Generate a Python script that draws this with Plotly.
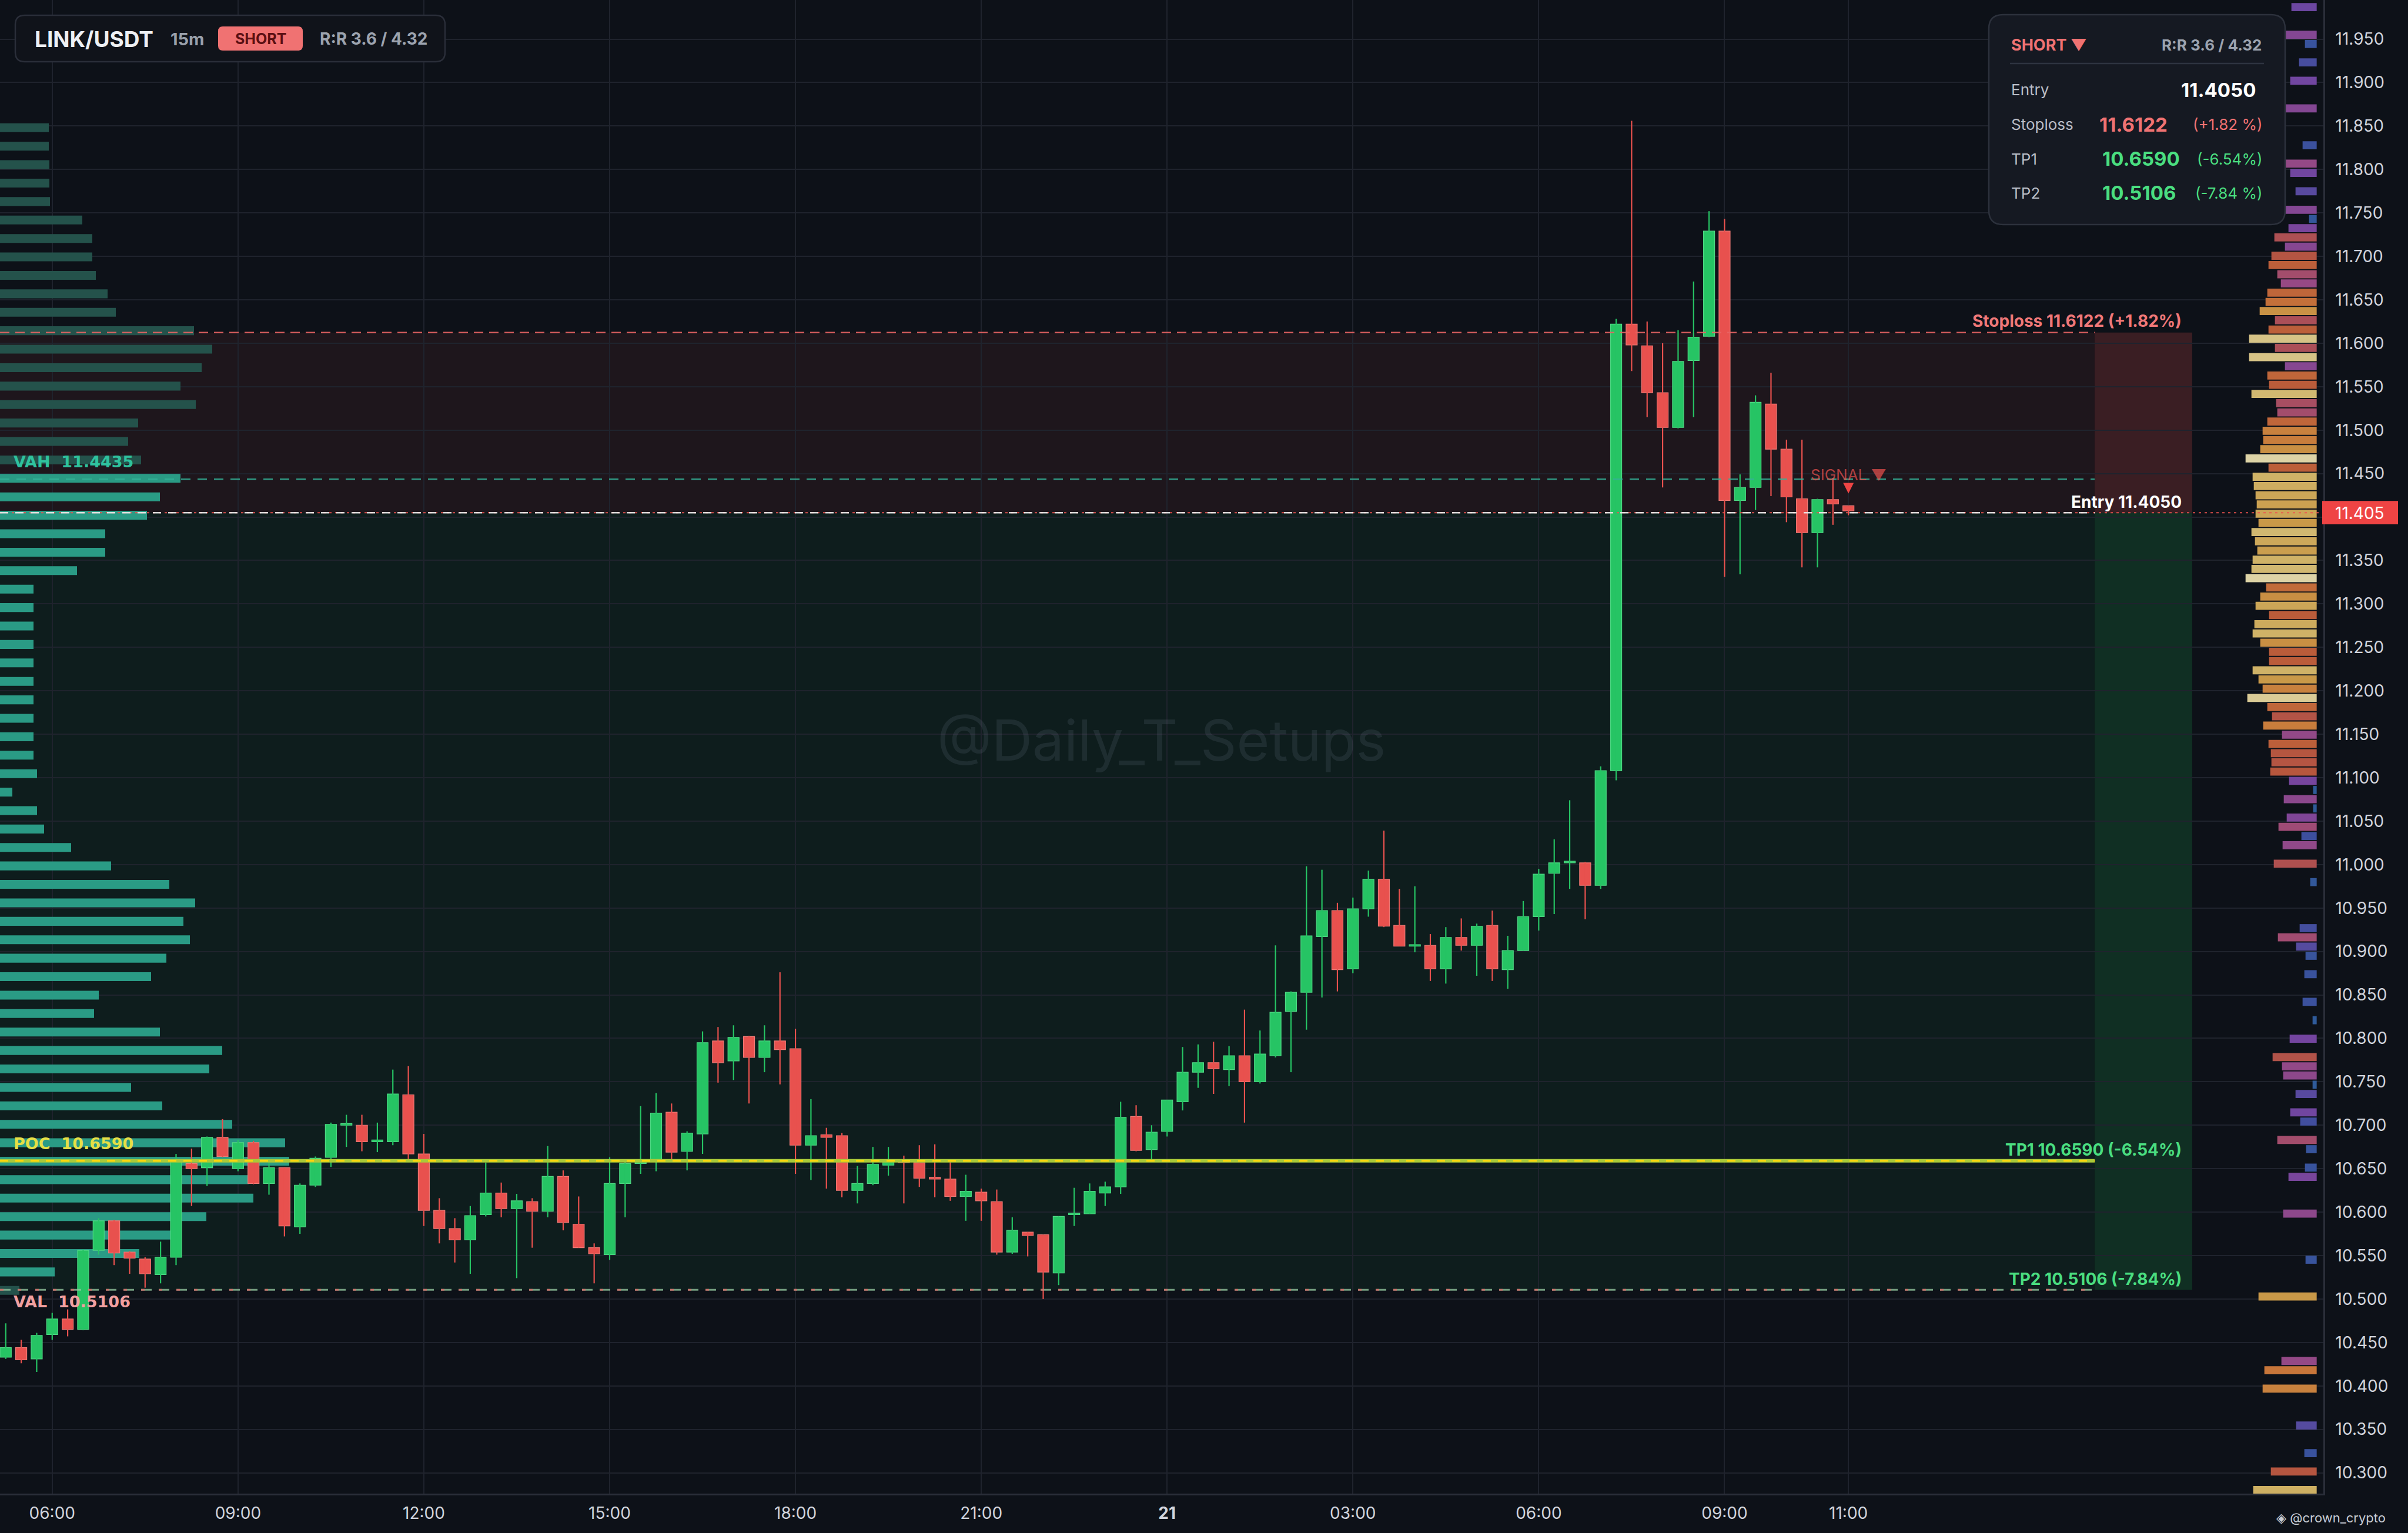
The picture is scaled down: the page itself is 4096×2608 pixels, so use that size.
import numpy as np
import pandas as pd
import plotly.graph_objects as go

# ---------------- data ----------------
# LINK/USDT 15m candles, first bar 05:15 on the 20th, last bar 11:00 on the 21st
first_bar = pd.Timestamp("2024-01-20 05:15")

opens = [10.433, 10.444, 10.431, 10.459, 10.477, 10.465, 10.556, 10.590, 10.554, 10.546, 10.528, 10.548, 10.656,
         10.651, 10.686, 10.650, 10.680, 10.633, 10.651, 10.583, 10.631, 10.663, 10.700, 10.700, 10.681, 10.681,
         10.735, 10.667, 10.602, 10.581, 10.568, 10.597, 10.622, 10.604, 10.612, 10.601, 10.641, 10.586, 10.559,
         10.551, 10.633, 10.656, 10.660, 10.715, 10.670, 10.690, 10.797, 10.774, 10.802, 10.778, 10.797, 10.788,
         10.677, 10.689, 10.688, 10.625, 10.633, 10.654, 10.658, 10.657, 10.640, 10.638, 10.618, 10.623, 10.612,
         10.554, 10.577, 10.574, 10.530, 10.597, 10.598, 10.622, 10.629, 10.710, 10.672, 10.693, 10.727, 10.761,
         10.772, 10.764, 10.780, 10.750, 10.780, 10.831, 10.853, 10.917, 10.947, 10.880, 10.949, 10.983, 10.930,
         10.906, 10.907, 10.880, 10.916, 10.907, 10.930, 10.879, 10.901, 10.940, 10.990, 11.002, 11.002, 10.976,
         11.108, 11.622, 11.597, 11.543, 11.503, 11.580, 11.608, 11.729, 11.419, 11.434, 11.530, 11.478, 11.421,
         11.382, 11.420, 11.413]
highs = [10.472, 10.453, 10.461, 10.484, 10.488, 10.557, 10.593, 10.591, 10.555, 10.548, 10.566, 10.667, 10.673,
         10.687, 10.707, 10.683, 10.682, 10.657, 10.652, 10.633, 10.664, 10.703, 10.712, 10.712, 10.703, 10.764,
         10.768, 10.690, 10.616, 10.593, 10.607, 10.657, 10.634, 10.621, 10.616, 10.676, 10.648, 10.618, 10.564,
         10.663, 10.658, 10.722, 10.737, 10.725, 10.693, 10.808, 10.813, 10.815, 10.803, 10.815, 10.876, 10.811,
         10.730, 10.697, 10.691, 10.653, 10.675, 10.675, 10.665, 10.677, 10.678, 10.658, 10.643, 10.627, 10.626,
         10.594, 10.577, 10.574, 10.595, 10.628, 10.633, 10.635, 10.727, 10.723, 10.700, 10.729, 10.790, 10.793,
         10.796, 10.791, 10.833, 10.809, 10.907, 10.854, 10.998, 10.994, 10.956, 10.962, 10.993, 11.039, 10.972,
         10.975, 10.920, 10.928, 10.938, 10.932, 10.947, 10.918, 10.958, 10.995, 11.029, 11.074, 11.003, 11.113,
         11.628, 11.856, 11.625, 11.600, 11.615, 11.671, 11.752, 11.743, 11.449, 11.540, 11.566, 11.489, 11.489,
         11.421, 11.445, 11.413]
lows = [10.431, 10.426, 10.416, 10.453, 10.457, 10.464, 10.551, 10.539, 10.529, 10.513, 10.518, 10.539, 10.607,
        10.630, 10.663, 10.647, 10.632, 10.620, 10.572, 10.575, 10.629, 10.652, 10.675, 10.670, 10.669, 10.677,
        10.661, 10.584, 10.564, 10.542, 10.529, 10.595, 10.594, 10.524, 10.559, 10.594, 10.579, 10.559, 10.518,
        10.545, 10.594, 10.644, 10.647, 10.660, 10.648, 10.667, 10.749, 10.752, 10.725, 10.761, 10.747, 10.644,
        10.637, 10.627, 10.617, 10.610, 10.631, 10.642, 10.610, 10.629, 10.617, 10.613, 10.590, 10.590, 10.551,
        10.552, 10.549, 10.500, 10.516, 10.584, 10.598, 10.607, 10.621, 10.670, 10.660, 10.687, 10.717, 10.743,
        10.736, 10.745, 10.703, 10.748, 10.778, 10.761, 10.810, 10.847, 10.854, 10.875, 10.940, 10.928, 10.906,
        10.899, 10.866, 10.863, 10.901, 10.872, 10.866, 10.857, 10.901, 10.924, 10.943, 10.972, 10.937, 10.972,
        11.097, 11.568, 11.515, 11.434, 11.502, 11.515, 11.607, 11.331, 11.334, 11.408, 11.424, 11.394, 11.342,
        11.342, 11.391, 11.402]
closes = [10.444, 10.430, 10.458, 10.477, 10.465, 10.556, 10.590, 10.553, 10.547, 10.529, 10.548, 10.658, 10.650,
          10.686, 10.664, 10.680, 10.633, 10.651, 10.584, 10.631, 10.662, 10.701, 10.702, 10.681, 10.683, 10.736,
          10.667, 10.602, 10.581, 10.568, 10.596, 10.622, 10.604, 10.613, 10.601, 10.641, 10.588, 10.559, 10.552,
          10.633, 10.656, 10.658, 10.714, 10.669, 10.691, 10.795, 10.772, 10.801, 10.778, 10.797, 10.787, 10.677,
          10.688, 10.686, 10.625, 10.633, 10.655, 10.660, 10.657, 10.639, 10.638, 10.618, 10.624, 10.613, 10.554,
          10.579, 10.573, 10.531, 10.595, 10.598, 10.624, 10.629, 10.709, 10.671, 10.692, 10.729, 10.761, 10.772,
          10.765, 10.780, 10.750, 10.782, 10.830, 10.853, 10.918, 10.947, 10.879, 10.949, 10.983, 10.929, 10.906,
          10.907, 10.880, 10.916, 10.907, 10.929, 10.880, 10.901, 10.940, 10.989, 11.002, 11.003, 10.976, 11.108,
          11.622, 11.598, 11.543, 11.503, 11.579, 11.607, 11.729, 11.419, 11.434, 11.532, 11.478, 11.423, 11.382,
          11.420, 11.415, 11.407]

# trade levels
entry = 11.4050
stoploss = 11.6122
tp1 = 10.6590
tp2 = 10.5106
poc = 10.6590
vah = 11.4435
val = 10.5106

# session volume profile (left), top bin first
vp_left_top = 11.848
vp_left_step = 0.02124
vp_left_vol = [83, 83, 84, 84, 85, 140, 157, 157, 163, 183, 197, 330, 361, 343, 307, 333,
               235, 218, 240, 307, 272, 250, 179, 179, 131, 57, 57, 57, 57, 57, 57, 57,
               57, 57, 57, 63, 21, 63, 75, 121, 189, 288, 332, 312, 323, 283, 257, 168,
               160, 272, 378, 356, 223, 276, 395, 485, 492, 423, 431, 351, 300, 237, 93, 33]

# heat volume profile (right edge), top bin first
vp_right_top = 11.9868
vp_right_step = 0.0106
vp_right_vol = [43, 0, 0, 53, 20, 0, 30, 0, 45, 0,
                0, 53, 0, 0, 0, 24, 0, 60, 45, 0,
                36, 0, 53, 13, 48, 72, 54, 77, 82, 67,
                61, 84, 87, 97, 71, 82, 115, 71, 115, 54,
                84, 81, 111, 69, 67, 84, 92, 91, 96, 121,
                82, 109, 107, 104, 102, 104, 99, 111, 105, 101,
                109, 111, 121, 86, 96, 104, 81, 106, 109, 96,
                81, 81, 109, 99, 92, 118, 84, 76, 91, 59,
                82, 78, 77, 79, 47, 6, 56, 6, 51, 65,
                26, 58, 0, 73, 0, 11, 0, 0, 0, 0,
                29, 66, 35, 19, 0, 21, 0, 0, 24, 0,
                7, 0, 46, 0, 75, 59, 57, 7, 36, 0,
                45, 28, 0, 67, 18, 0, 20, 48, 0, 0,
                0, 57, 0, 0, 0, 0, 19, 0, 0, 0,
                99, 0, 0, 0, 0, 0, 0, 60, 89, 0,
                92, 0, 0, 0, 35, 0, 0, 21, 0, 78,
                0, 108]

tick_hours = [0, 12, 24, 36, 48, 60, 72, 84, 96, 108, 116]   # bars after 06:00 on the 20th
tick_text = ["06:00", "09:00", "12:00", "15:00", "18:00", "21:00", "<b>21</b>",
             "03:00", "06:00", "09:00", "11:00"]

# ---------------- geometry / style ----------------
W, H = 4096, 2608
PW, PH = 3952, 2541          # plot area in px
BG = "#0d1118"
GRID = "#1f232d"
GREEN = "#26c464"
RED = "#e8514e"
TXT = "#d1d4dc"

bar_px = 26.34               # one 15m bar in px
ms_per_px = 15 * 60 * 1000 / bar_px
t0 = pd.Timestamp("2024-01-20 06:00")


def at(k):
    return t0 + pd.Timedelta(minutes=15 * k)


x_lo, x_hi = -3.37, 146.67
zone_end, box_end = 131.9, 138.2
lbl_right = 137.6
y_lo, y_hi = 10.276, 11.995

times = pd.date_range(first_bar, periods=len(opens), freq="15min")


def px(xp, yp):
    return xp / PW, 1 - yp / PH


def rrect(x0, y0, x1, y1, r):
    X = lambda v: v / PW
    Y = lambda v: 1 - v / PH
    return (f"M{X(x0 + r)},{Y(y0)} L{X(x1 - r)},{Y(y0)} Q{X(x1)},{Y(y0)} {X(x1)},{Y(y0 + r)} "
            f"L{X(x1)},{Y(y1 - r)} Q{X(x1)},{Y(y1)} {X(x1 - r)},{Y(y1)} "
            f"L{X(x0 + r)},{Y(y1)} Q{X(x0)},{Y(y1)} {X(x0)},{Y(y1 - r)} "
            f"L{X(x0)},{Y(y0 + r)} Q{X(x0)},{Y(y0)} {X(x0 + r)},{Y(y0)} Z")


fig = go.Figure()

# left volume profile
lp = [vp_left_top - i * vp_left_step for i in range(len(vp_left_vol))]
lcol = ["#2a9b85" if (val - 0.0005) <= p <= (vah + 0.001) else "#24524b" for p in lp]
fig.add_trace(go.Bar(
    y=lp, x=[v * ms_per_px for v in vp_left_vol], base=at(x_lo), orientation="h",
    width=0.0102, marker=dict(color=lcol, line=dict(width=0)), hoverinfo="skip"))

# right heat profile
rp, rv = [], []
for i, v in enumerate(vp_right_vol):
    if v > 0:
        rp.append(vp_right_top - i * vp_right_step)
        rv.append(v)
r_edge = at(146.24)
fig.add_trace(go.Bar(
    y=rp, x=[v * ms_per_px for v in rv],
    base=[r_edge - pd.Timedelta(milliseconds=v * ms_per_px) for v in rv],
    orientation="h", width=0.0093, hoverinfo="skip",
    marker=dict(color=rv, cmin=0, cmax=121, line=dict(width=0),
                colorscale=[[0, "#2a5f98"], [0.22, "#3d4f9e"], [0.38, "#7445a0"], [0.52, "#9b4a80"],
                            [0.6, "#ae5050"], [0.66, "#b8583a"], [0.74, "#c8783a"], [0.82, "#c99a48"],
                            [0.9, "#cfb266"], [1, "#ddd3a6"]])))

# candles: wicks as lines, bodies as bars
up = [c >= o for o, c in zip(opens, closes)]
for is_up, col in [(True, GREEN), (False, RED)]:
    wx, wy = [], []
    for t, hi, lo, u in zip(times, highs, lows, up):
        if u == is_up:
            wx += [t, t, None]
            wy += [lo, hi, None]
    fig.add_trace(go.Scatter(x=wx, y=wy, mode="lines", line=dict(color=col, width=2.2),
                             hoverinfo="skip"))
fig.add_trace(go.Bar(
    x=times, base=[min(o, c) for o, c in zip(opens, closes)],
    y=[max(abs(c - o), 0.0018) for o, c in zip(opens, closes)],
    width=19 * ms_per_px, hoverinfo="skip",
    marker=dict(color=[GREEN if u else RED for u in up],
                line=dict(color=["#4fd884" if u else "#f07a76" for u in up], width=1.2))))

# signal arrow on the last bar
fig.add_trace(go.Scatter(x=[times[-1]], y=[11.427], mode="markers",
                         marker=dict(symbol="arrow-down", size=18, color="#ef4444"), hoverinfo="skip"))

shapes = []
# risk / reward zones
shapes += [
    dict(type="rect", xref="x", yref="y", x0=at(x_lo), x1=at(zone_end), y0=entry, y1=stoploss,
         fillcolor="rgba(239,83,80,0.08)", line=dict(width=0), layer="below"),
    dict(type="rect", xref="x", yref="y", x0=at(x_lo), x1=at(zone_end), y0=tp2, y1=entry,
         fillcolor="rgba(34,197,94,0.07)", line=dict(width=0), layer="below"),
    dict(type="rect", xref="x", yref="y", x0=at(zone_end), x1=at(box_end), y0=entry, y1=stoploss,
         fillcolor="rgba(239,83,80,0.2)", line=dict(width=0), layer="below"),
    dict(type="rect", xref="x", yref="y", x0=at(zone_end), x1=at(box_end), y0=tp2, y1=entry,
         fillcolor="rgba(34,197,94,0.17)", line=dict(width=0), layer="below"),
]


def hline(y, color, width, dash, x1=zone_end, x0=x_lo):
    return dict(type="line", xref="x", yref="y", x0=at(x0), x1=at(x1), y0=y, y1=y,
                line=dict(color=color, width=width, dash=dash))


shapes += [
    hline(stoploss, "rgba(232,100,100,0.9)", 2.5, "16px,10px"),
    hline(vah, "rgba(52,178,150,0.85)", 2.5, "16px,12px"),
    hline(entry, "rgba(239,83,80,0.9)", 2, "4px,6px", x1=x_hi),
    hline(entry, "rgba(235,235,235,0.9)", 2.5, "14px,12px"),
    hline(poc, "#a9c93a", 6, "solid"),
    hline(poc, "#ffd60a", 3, "14px,12px"),
    hline(tp2, "rgba(150,200,160,0.75)", 3, "18px,12px"),
    hline(val, "rgba(220,100,100,0.75)", 3, "6px,24px"),
]

# header box
shapes += [
    dict(type="path", xref="paper", yref="paper", path=rrect(26, 26, 757, 105, 16),
         fillcolor="#10131a", line=dict(color="#2a2e39", width=2.5)),
    dict(type="path", xref="paper", yref="paper", path=rrect(371, 45, 515, 86, 8),
         fillcolor="#f07272", line=dict(width=0)),
    # info box
    dict(type="path", xref="paper", yref="paper", path=rrect(3383, 25, 3887, 382, 24),
         fillcolor="#151922", line=dict(color="#2c313c", width=2.5)),
    dict(type="line", xref="paper", yref="paper", x0=3419 / PW, x1=3851 / PW,
         y0=1 - 108 / PH, y1=1 - 108 / PH, line=dict(color="#2e3340", width=2.5)),
    # current price tag
    dict(type="rect", xref="paper", yref="y", x0=3950 / PW, x1=4079 / PW,
         y0=entry - 0.0135, y1=entry + 0.0135, fillcolor="#ef4444", line=dict(width=0)),
]

ann = []


def note(xp, yp, text, color, size, xanchor="left", bold=False, family="Inter"):
    x, y = px(xp, yp)
    ann.append(dict(xref="paper", yref="paper", x=x, y=y, text=f"<b>{text}</b>" if bold else text,
                    showarrow=False, xanchor=xanchor, yanchor="middle",
                    font=dict(family=family, size=size, color=color)))


note(57, 66, "LINK/USDT", "#eef0f4", 37, bold=True)
note(288, 66, "15m", "#9aa0ab", 29, bold=True)
note(443, 66, "SHORT", "#5a0f12", 25, xanchor="center", bold=True)
note(542, 66, "R:R 3.6 / 4.32", "#9ca3af", 28, bold=True)

note(3419, 77, "SHORT ▼", "#f07272", 27, bold=True)
note(3849, 77, "R:R 3.6 / 4.32", "#9ca3af", 26, xanchor="right", bold=True)
note(3419, 153, "Entry", "#b9bdc7", 26)
note(3839, 153, "11.4050", "#ffffff", 33, xanchor="right", bold=True)
note(3419, 212, "Stoploss", "#b9bdc7", 26)
note(3569, 212, "11.6122", "#f07272", 33, bold=True)
note(3850, 212, "(+1.82 %)", "#f07272", 26, xanchor="right")
note(3419, 270, "TP1", "#b9bdc7", 26)
note(3574, 270, "10.6590", "#4ade80", 33, bold=True)
note(3850, 270, "(-6.54%)", "#4ade80", 26, xanchor="right")
note(3419, 328, "TP2", "#b9bdc7", 26)
note(3574, 328, "10.5106", "#4ade80", 33, bold=True)
note(3850, 328, "(-7.84 %)", "#4ade80", 26, xanchor="right")

note(1975, 1259, "@Daily_T_Setups", "rgba(120,130,150,0.16)", 96, xanchor="center")
note(3870, 2582, "◈ @crown_crypto", "#c8ccd4", 22)
note(4014, 873, "11.405", "#ffffff", 28, xanchor="center")


def level_label(k, y, text, color, shift, xanchor="right", family="Inter", size=28, xpaper=None):
    d = dict(yref="y", y=y, text=f"<b>{text}</b>", showarrow=False, xanchor=xanchor,
             yanchor="middle", yshift=shift, font=dict(family=family, size=size, color=color))
    if xpaper is None:
        d.update(xref="x", x=at(k))
    else:
        d.update(xref="paper", x=xpaper)
    ann.append(d)


level_label(lbl_right, stoploss, "Stoploss 11.6122 (+1.82%)", "#f07878", 20)
level_label(lbl_right, entry, "Entry 11.4050", "#ffffff", 18)
level_label(lbl_right, tp1, "TP1 10.6590 (-6.54%)", "#4ade80", 19)
level_label(lbl_right, tp2, "TP2 10.5106 (-7.84%)", "#4ade80", 18)
level_label(0, vah, "VAH  11.4435", "#2fc29e", 30, xanchor="left", family="DejaVu Sans", size=27, xpaper=21 / PW)
level_label(0, poc, "POC  10.6590", "#e6df45", 29, xanchor="left", family="DejaVu Sans", size=27, xpaper=21 / PW)
level_label(0, val, "VAL  10.5106", "#f2a0a0", -20, xanchor="left", family="DejaVu Sans", size=27, xpaper=21 / PW)
ann.append(dict(xref="x", yref="y", x=at(113.5), y=11.449, text="SIGNAL ▼", showarrow=False,
                xanchor="left", yanchor="middle", font=dict(family="Inter", size=26, color="rgba(239,83,80,0.7)")))

yt = [round(v, 2) for v in np.arange(10.30, 11.951, 0.05)]
yt_text = ["" if abs(v - 11.40) < 1e-6 else f"{v:.3f}" for v in yt]

fig.update_layout(
    width=W, height=H, margin=dict(l=0, r=W - PW, t=0, b=H - PH),
    paper_bgcolor=BG, plot_bgcolor=BG, showlegend=False, barmode="overlay",
    hovermode=False, shapes=shapes, annotations=ann,
    xaxis=dict(type="date", range=[at(x_lo), at(x_hi)],
               tickvals=[at(k) for k in tick_hours], ticktext=tick_text,
               showgrid=True, gridcolor=GRID, gridwidth=2, zeroline=False,
               showline=True, linecolor="#2a2e39", linewidth=3, ticks="",
               ticklabelstandoff=6, tickfont=dict(family="Inter", size=28, color=TXT)),
    yaxis=dict(side="right", range=[y_lo, y_hi], tickvals=yt, ticktext=yt_text,
               showgrid=True, gridcolor=GRID, gridwidth=2, zeroline=False,
               showline=True, linecolor="#2a2e39", linewidth=3, ticks="",
               ticklabelstandoff=12, tickfont=dict(family="Inter", size=28, color=TXT)),
)

fig.write_html("out.html", config={"displayModeBar": False},
               post_script="document.body.style.margin='0';document.body.style.background='#0d1118';")
